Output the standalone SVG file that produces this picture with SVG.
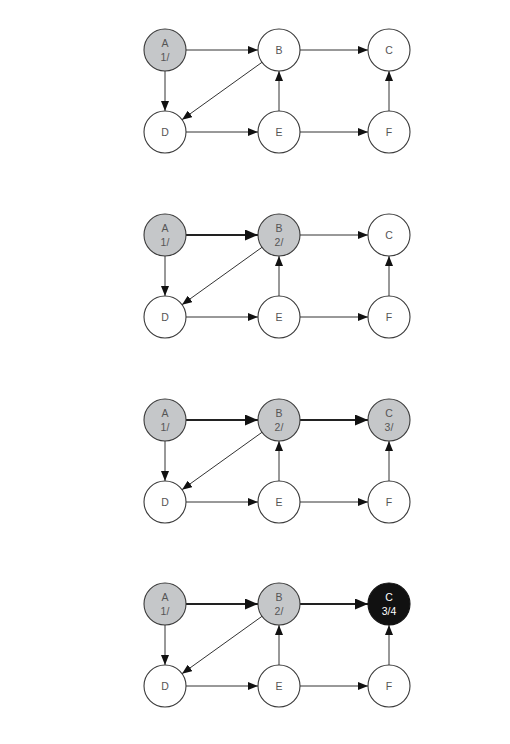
<svg xmlns="http://www.w3.org/2000/svg" width="510" height="744" viewBox="0 0 510 744">
<defs>
<style>
.n{stroke:#3a3a3a;stroke-width:1.1;fill:#fff}
.g{fill:#c5c7c9}
.k{fill:#111;stroke:#111}
.t{font-family:"Liberation Sans",Arial,sans-serif;font-size:10.5px;fill:#555;text-anchor:middle}
.w{fill:#fff}
.e{stroke:#333;stroke-width:1;fill:none;marker-end:url(#ar)}
.h{stroke:#222;stroke-width:2.2;fill:none;marker-end:url(#arh)}
</style>
<marker id="ar" markerUnits="userSpaceOnUse" viewBox="0 0 10 8" refX="10" refY="4" markerWidth="10" markerHeight="8" orient="auto">
<path d="M0,0 L10,4 L0,8 z" fill="#111"/>
</marker>
<marker id="arh" markerUnits="userSpaceOnUse" viewBox="0 0 13 11" refX="13" refY="5.5" markerWidth="13" markerHeight="11" orient="auto">
<path d="M0,0 L13,5.5 L0,11 z" fill="#111"/>
</marker>
</defs>
<rect width="510" height="744" fill="#fff"/>

<!-- Panel 1 -->
<g id="p1-edges">
<line class="e" x1="186" y1="50" x2="258" y2="50"/>
<line class="e" x1="300" y1="50" x2="368" y2="50"/>
<line class="e" x1="165" y1="71" x2="165" y2="111"/>
<line class="e" x1="262" y1="62.3" x2="182" y2="119.7"/>
<line class="e" x1="186" y1="132" x2="258" y2="132"/>
<line class="e" x1="279" y1="111" x2="279" y2="71"/>
<line class="e" x1="300" y1="132" x2="368" y2="132"/>
<line class="e" x1="389" y1="111" x2="389" y2="71"/>
</g>
<g id="p1-A"><circle class="n g" cx="165" cy="50" r="21"/><text class="t" x="165" y="47">A</text><text class="t" x="165" y="60.5">1/</text></g>
<g id="p1-B"><circle class="n" cx="279" cy="50" r="21"/><text class="t" x="279" y="54">B</text></g>
<g id="p1-C"><circle class="n" cx="389" cy="50" r="21"/><text class="t" x="389" y="54">C</text></g>
<g id="p1-D"><circle class="n" cx="165" cy="132" r="21"/><text class="t" x="165" y="136">D</text></g>
<g id="p1-E"><circle class="n" cx="279" cy="132" r="21"/><text class="t" x="279" y="136">E</text></g>
<g id="p1-F"><circle class="n" cx="389" cy="132" r="21"/><text class="t" x="389" y="136">F</text></g>

<!-- Panel 2 -->
<g id="p2-edges">
<line class="h" x1="186" y1="235" x2="258" y2="235"/>
<line class="e" x1="300" y1="235" x2="368" y2="235"/>
<line class="e" x1="165" y1="256" x2="165" y2="296"/>
<line class="e" x1="262" y1="247.3" x2="182" y2="304.7"/>
<line class="e" x1="186" y1="317" x2="258" y2="317"/>
<line class="e" x1="279" y1="296" x2="279" y2="256"/>
<line class="e" x1="300" y1="317" x2="368" y2="317"/>
<line class="e" x1="389" y1="296" x2="389" y2="256"/>
</g>
<g id="p2-A"><circle class="n g" cx="165" cy="235" r="21"/><text class="t" x="165" y="232">A</text><text class="t" x="165" y="245.5">1/</text></g>
<g id="p2-B"><circle class="n g" cx="279" cy="235" r="21"/><text class="t" x="279" y="232">B</text><text class="t" x="279" y="245.5">2/</text></g>
<g id="p2-C"><circle class="n" cx="389" cy="235" r="21"/><text class="t" x="389" y="239">C</text></g>
<g id="p2-D"><circle class="n" cx="165" cy="317" r="21"/><text class="t" x="165" y="321">D</text></g>
<g id="p2-E"><circle class="n" cx="279" cy="317" r="21"/><text class="t" x="279" y="321">E</text></g>
<g id="p2-F"><circle class="n" cx="389" cy="317" r="21"/><text class="t" x="389" y="321">F</text></g>

<!-- Panel 3 -->
<g id="p3-edges">
<line class="h" x1="186" y1="420" x2="258" y2="420"/>
<line class="h" x1="300" y1="420" x2="368" y2="420"/>
<line class="e" x1="165" y1="441" x2="165" y2="481"/>
<line class="e" x1="262" y1="432.3" x2="182" y2="489.7"/>
<line class="e" x1="186" y1="502" x2="258" y2="502"/>
<line class="e" x1="279" y1="481" x2="279" y2="441"/>
<line class="e" x1="300" y1="502" x2="368" y2="502"/>
<line class="e" x1="389" y1="481" x2="389" y2="441"/>
</g>
<g id="p3-A"><circle class="n g" cx="165" cy="420" r="21"/><text class="t" x="165" y="417">A</text><text class="t" x="165" y="430.5">1/</text></g>
<g id="p3-B"><circle class="n g" cx="279" cy="420" r="21"/><text class="t" x="279" y="417">B</text><text class="t" x="279" y="430.5">2/</text></g>
<g id="p3-C"><circle class="n g" cx="389" cy="420" r="21"/><text class="t" x="389" y="417">C</text><text class="t" x="389" y="430.5">3/</text></g>
<g id="p3-D"><circle class="n" cx="165" cy="502" r="21"/><text class="t" x="165" y="506">D</text></g>
<g id="p3-E"><circle class="n" cx="279" cy="502" r="21"/><text class="t" x="279" y="506">E</text></g>
<g id="p3-F"><circle class="n" cx="389" cy="502" r="21"/><text class="t" x="389" y="506">F</text></g>

<!-- Panel 4 -->
<g id="p4-edges">
<line class="h" x1="186" y1="604" x2="258" y2="604"/>
<line class="h" x1="300" y1="604" x2="368" y2="604"/>
<line class="e" x1="165" y1="625" x2="165" y2="665"/>
<line class="e" x1="262" y1="616.3" x2="182" y2="673.7"/>
<line class="e" x1="186" y1="686" x2="258" y2="686"/>
<line class="e" x1="279" y1="665" x2="279" y2="625"/>
<line class="e" x1="300" y1="686" x2="368" y2="686"/>
<line class="e" x1="389" y1="665" x2="389" y2="625"/>
</g>
<g id="p4-A"><circle class="n g" cx="165" cy="604" r="21"/><text class="t" x="165" y="601">A</text><text class="t" x="165" y="614.5">1/</text></g>
<g id="p4-B"><circle class="n g" cx="279" cy="604" r="21"/><text class="t" x="279" y="601">B</text><text class="t" x="279" y="614.5">2/</text></g>
<g id="p4-C"><circle class="n k" cx="389" cy="604" r="21"/><text class="t w" x="389" y="601">C</text><text class="t w" x="389" y="614.5">3/4</text></g>
<g id="p4-D"><circle class="n" cx="165" cy="686" r="21"/><text class="t" x="165" y="690">D</text></g>
<g id="p4-E"><circle class="n" cx="279" cy="686" r="21"/><text class="t" x="279" y="690">E</text></g>
<g id="p4-F"><circle class="n" cx="389" cy="686" r="21"/><text class="t" x="389" y="690">F</text></g>
</svg>
